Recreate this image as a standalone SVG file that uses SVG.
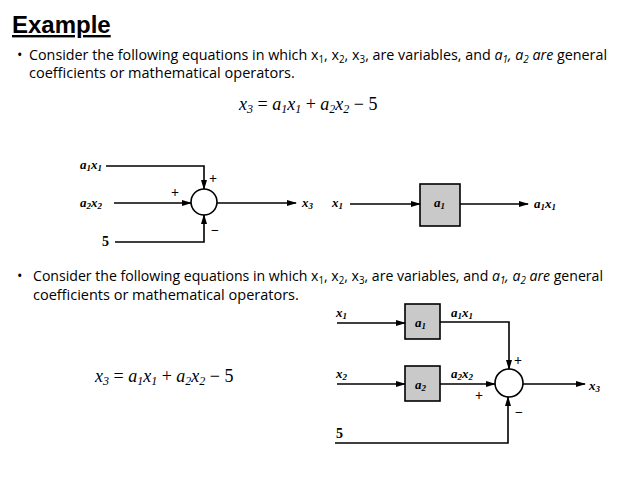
<svg xmlns="http://www.w3.org/2000/svg" width="638" height="478" viewBox="0 0 638 478">
<defs>
<style>
.t{font-family:"Open Sans","Liberation Sans",sans-serif;font-size:14.5px;fill:#000}
.m{font-family:"Liberation Serif",serif;font-style:italic;font-size:18px}
.d{font-family:"Liberation Serif",serif;font-style:italic;font-weight:bold;font-size:13px}
.s{font-family:"Liberation Serif",serif;font-weight:bold;font-size:14px;font-style:normal}
.w{stroke:#000;stroke-width:1.6;fill:none}
.box{fill:#c9c9c9;stroke:#000;stroke-width:1.6}
</style>
<marker id="a" markerWidth="10" markerHeight="8" refX="9" refY="4" orient="auto" markerUnits="userSpaceOnUse"><path d="M0,1 L10,4 L0,7z" fill="#000"/></marker>
</defs>
<rect width="638" height="478" fill="#fff"/>
<text x="12" y="33" font-family="Liberation Sans,sans-serif" font-weight="bold" font-size="24" text-decoration="underline">Example</text>
<text class="t" x="17" y="60">•</text>
<text class="t" x="29" y="60" textLength="578" lengthAdjust="spacingAndGlyphs">Consider the following equations in which x<tspan font-size="10" dy="3">1</tspan><tspan dy="-3">, x</tspan><tspan font-size="10" dy="3">2</tspan><tspan dy="-3">, x</tspan><tspan font-size="10" dy="3">3</tspan><tspan dy="-3">, are variables, and </tspan><tspan font-style="italic">a</tspan><tspan font-style="italic" font-size="10" dy="3">1</tspan><tspan dy="-3" font-style="italic">, a</tspan><tspan font-style="italic" font-size="10" dy="3">2</tspan><tspan dy="-3" font-style="italic"> are</tspan> general</text>
<text class="t" x="29" y="78">coefficients or mathematical operators.</text>
<text class="m" x="239" y="110">x<tspan font-size="12" dy="3">3</tspan><tspan dy="-3" font-style="normal"> = </tspan>a<tspan font-size="12" dy="3">1</tspan><tspan dy="-3">x</tspan><tspan font-size="12" dy="3">1</tspan><tspan dy="-3" font-style="normal"> + </tspan>a<tspan font-size="12" dy="3">2</tspan><tspan dy="-3">x</tspan><tspan font-size="12" dy="3">2</tspan><tspan dy="-3" font-style="normal"> − 5</tspan></text>
<text class="t" x="17" y="281">•</text>
<text class="t" x="33" y="281" textLength="570" lengthAdjust="spacingAndGlyphs">Consider the following equations in which x<tspan font-size="10" dy="3">1</tspan><tspan dy="-3">, x</tspan><tspan font-size="10" dy="3">2</tspan><tspan dy="-3">, x</tspan><tspan font-size="10" dy="3">3</tspan><tspan dy="-3">, are variables, and </tspan><tspan font-style="italic">a</tspan><tspan font-style="italic" font-size="10" dy="3">1</tspan><tspan dy="-3" font-style="italic">, a</tspan><tspan font-style="italic" font-size="10" dy="3">2</tspan><tspan dy="-3" font-style="italic"> are</tspan> general</text>
<text class="t" x="33" y="300">coefficients or mathematical operators.</text>
<text class="m" x="95" y="382">x<tspan font-size="12" dy="3">3</tspan><tspan dy="-3" font-style="normal"> = </tspan>a<tspan font-size="12" dy="3">1</tspan><tspan dy="-3">x</tspan><tspan font-size="12" dy="3">1</tspan><tspan dy="-3" font-style="normal"> + </tspan>a<tspan font-size="12" dy="3">2</tspan><tspan dy="-3">x</tspan><tspan font-size="12" dy="3">2</tspan><tspan dy="-3" font-style="normal"> − 5</tspan></text>

<g id="sum1"><circle cx="204" cy="202" r="13" class="w"/></g>
<g id="blk1"><rect x="420" y="184" width="40" height="42" class="box"/><text class="d" x="434" y="207">a<tspan font-size="9" dy="2">1</tspan></text></g>
<g id="blk2a"><rect x="405" y="304" width="35" height="35" class="box"/><text class="d" x="415" y="327">a<tspan font-size="9" dy="2">1</tspan></text></g>
<g id="blk2b"><rect x="405" y="366" width="35" height="35" class="box"/><text class="d" x="415" y="389">a<tspan font-size="9" dy="2">2</tspan></text></g>
<g id="sum2"><circle cx="509" cy="383" r="14" class="w"/></g>

<g id="labels" class="d">
<text x="80" y="169">a<tspan font-size="9" dy="2">1</tspan><tspan dy="-2">x</tspan><tspan font-size="9" dy="2">1</tspan></text>
<text x="80" y="207">a<tspan font-size="9" dy="2">2</tspan><tspan dy="-2">x</tspan><tspan font-size="9" dy="2">2</tspan></text>
<text x="102" y="246" class="s">5</text>
<text x="302" y="207">x<tspan font-size="9" dy="2">3</tspan></text>
<text x="332" y="207">x<tspan font-size="9" dy="2">1</tspan></text>
<text x="534" y="208">a<tspan font-size="9" dy="2">1</tspan><tspan dy="-2">x</tspan><tspan font-size="9" dy="2">1</tspan></text>
<text x="336" y="317">x<tspan font-size="9" dy="2">1</tspan></text>
<text x="451" y="317">a<tspan font-size="9" dy="2">1</tspan><tspan dy="-2">x</tspan><tspan font-size="9" dy="2">1</tspan></text>
<text x="336" y="378">x<tspan font-size="9" dy="2">2</tspan></text>
<text x="451" y="378">a<tspan font-size="9" dy="2">2</tspan><tspan dy="-2">x</tspan><tspan font-size="9" dy="2">2</tspan></text>
<text x="336" y="438" class="s">5</text>
<text x="589" y="390">x<tspan font-size="9" dy="2">3</tspan></text>
<text x="209" y="183" class="s">+</text>
<text x="171" y="197" class="s">+</text>
<text x="211" y="235" class="s">−</text>
<text x="514" y="365" class="s">+</text>
<text x="475" y="400" class="s">+</text>
<text x="515" y="417" class="s">−</text>
</g>

<g id="connectors" class="w" marker-end="url(#a)">
<path d="M106,166 H204 V189"/>
<path d="M114,203 H191"/>
<path d="M115,242 H204 V215"/>
<path d="M217,203 H296"/>
<path d="M350,204 H420"/>
<path d="M460,204 H528"/>
<path d="M337,323 H405"/>
<path d="M440,322 H509 V369"/>
<path d="M337,384 H405"/>
<path d="M440,384 H495"/>
<path d="M335,443 H508 V397"/>
<path d="M523,384 H585"/>
</g>
</svg>
